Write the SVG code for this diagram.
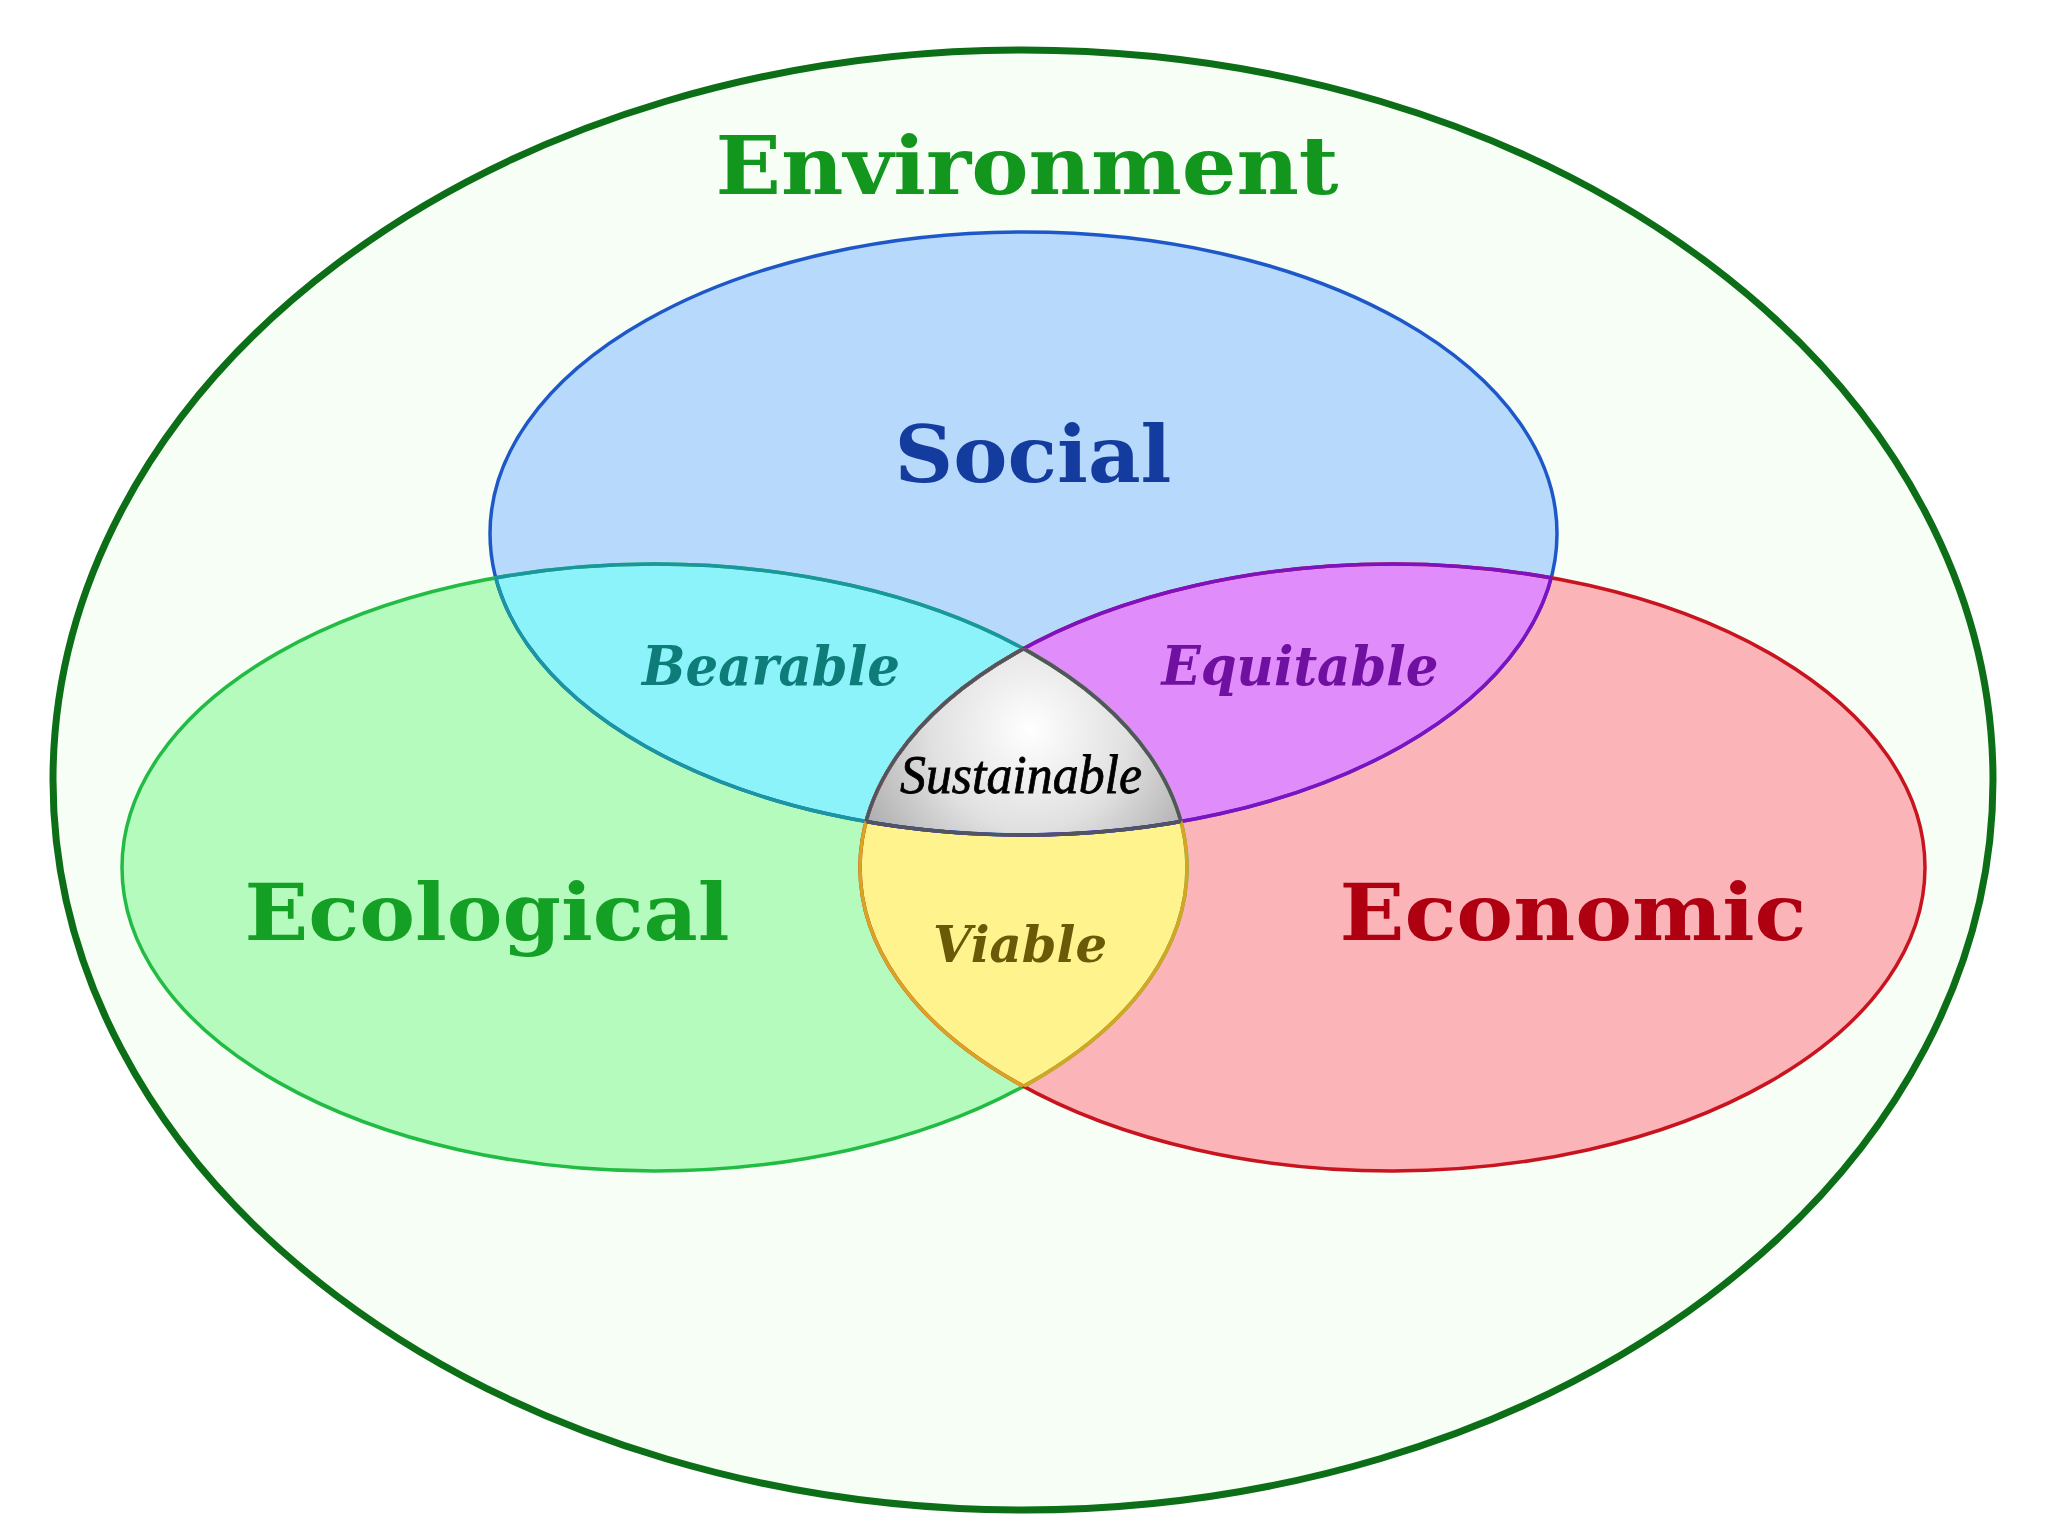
<svg xmlns="http://www.w3.org/2000/svg" width="2048" height="1536" viewBox="0 0 2048 1536">
<style>
.big{font-family:"DejaVu Serif","Liberation Serif",serif;font-weight:bold;text-anchor:middle}
.mid{font-family:"DejaVu Serif","Liberation Serif",serif;font-weight:bold;font-style:italic;text-anchor:middle}
.sus{font-family:"Liberation Serif",serif;font-style:italic;text-anchor:middle;fill:#000;stroke:#000;stroke-width:0.8}
.st{fill:none;stroke-width:3.5}
</style>
<defs>
<clipPath id="cS"><ellipse cx="1023.5" cy="533.5" rx="533.5" ry="301.5"/></clipPath>
<clipPath id="cE"><ellipse cx="654.5" cy="867.5" rx="532.5" ry="303.5"/></clipPath>
<clipPath id="cN"><ellipse cx="1392.5" cy="867.5" rx="532.5" ry="303.5"/></clipPath>
<ellipse id="eS" cx="1023.5" cy="533.5" rx="533.5" ry="301.5"/>
<ellipse id="eE" cx="654.5" cy="867.5" rx="532.5" ry="303.5"/>
<ellipse id="eN" cx="1392.5" cy="867.5" rx="532.5" ry="303.5"/>
<radialGradient id="gSus" gradientUnits="userSpaceOnUse" cx="1030" cy="730" r="200">
<stop offset="0" stop-color="#ffffff"/>
<stop offset="0.5" stop-color="#e0e0e0"/>
<stop offset="1" stop-color="#a6a6a6"/>
</radialGradient>
</defs>
<rect width="2048" height="1536" fill="#ffffff"/>
<g id="environment">
<ellipse cx="1023" cy="780" rx="970" ry="730" fill="#f6fef6" stroke="#0c6e16" stroke-width="7"/>
<text class="big" x="1027" y="194" font-size="81" fill="#12961e" textLength="623" lengthAdjust="spacingAndGlyphs">Environment</text>
</g>
<g id="social">
<use href="#eS" fill="#b7d9fb"/>
</g>
<g id="ecological">
<use href="#eE" fill="#b5fbbd"/>
</g>
<g id="economic">
<use href="#eN" fill="#fbb5b9"/>
</g>
<g id="bearable">
<g clip-path="url(#cS)"><use href="#eE" fill="#8cf3fb"/></g>
</g>
<g id="equitable">
<g clip-path="url(#cS)"><use href="#eN" fill="#e08cfa"/></g>
</g>
<g id="viable">
<g clip-path="url(#cE)"><use href="#eN" fill="#fff38e"/></g>
</g>
<g id="sustainable">
<g clip-path="url(#cE)"><g clip-path="url(#cN)"><use href="#eS" fill="url(#gSus)"/></g></g>
</g>
<g id="outlines">
<use href="#eS" class="st" stroke="#1e58c8"/>
<use href="#eE" class="st" stroke="#22bb44"/>
<use href="#eN" class="st" stroke="#c8141e"/>
<g clip-path="url(#cE)"><use href="#eS" class="st" stroke="#1a96a0"/></g>
<g clip-path="url(#cS)"><use href="#eE" class="st" stroke="#1a96a0"/></g>
<g clip-path="url(#cN)"><use href="#eS" class="st" stroke="#7e12c0"/></g>
<g clip-path="url(#cS)"><use href="#eN" class="st" stroke="#7e12c0"/></g>
<g clip-path="url(#cN)"><use href="#eE" class="st" stroke="#d8a424"/></g>
<g clip-path="url(#cE)"><use href="#eN" class="st" stroke="#d8a424"/></g>
<g clip-path="url(#cE)"><g clip-path="url(#cN)"><use href="#eS" class="st" stroke="#4f5660" stroke-width="4.5"/></g></g>
<g clip-path="url(#cS)"><g clip-path="url(#cN)"><use href="#eE" class="st" stroke="#4f5660" stroke-width="4.5"/></g></g>
<g clip-path="url(#cS)"><g clip-path="url(#cE)"><use href="#eN" class="st" stroke="#4f5660" stroke-width="4.5"/></g></g>
</g>
<g id="labels">
<text class="big" x="1033" y="482" font-size="79" fill="#133c9e" textLength="277" lengthAdjust="spacingAndGlyphs">Social</text>
<text class="big" x="487" y="940" font-size="79" fill="#14a024" textLength="485" lengthAdjust="spacingAndGlyphs">Ecological</text>
<text class="big" x="1573" y="940" font-size="79" fill="#ae0010" textLength="467" lengthAdjust="spacingAndGlyphs">Economic</text>
<text class="mid" x="771" y="685" font-size="55" fill="#0e7d7a" textLength="258" lengthAdjust="spacingAndGlyphs">Bearable</text>
<text class="mid" x="1300" y="685" font-size="55" fill="#7010a0" textLength="277" lengthAdjust="spacingAndGlyphs">Equitable</text>
<text class="mid" x="1020" y="962" font-size="51" fill="#6a5a08" textLength="174" lengthAdjust="spacingAndGlyphs">Viable</text>
<text class="sus" x="1021" y="793" font-size="54" textLength="242" lengthAdjust="spacingAndGlyphs">Sustainable</text>
</g>
</svg>
